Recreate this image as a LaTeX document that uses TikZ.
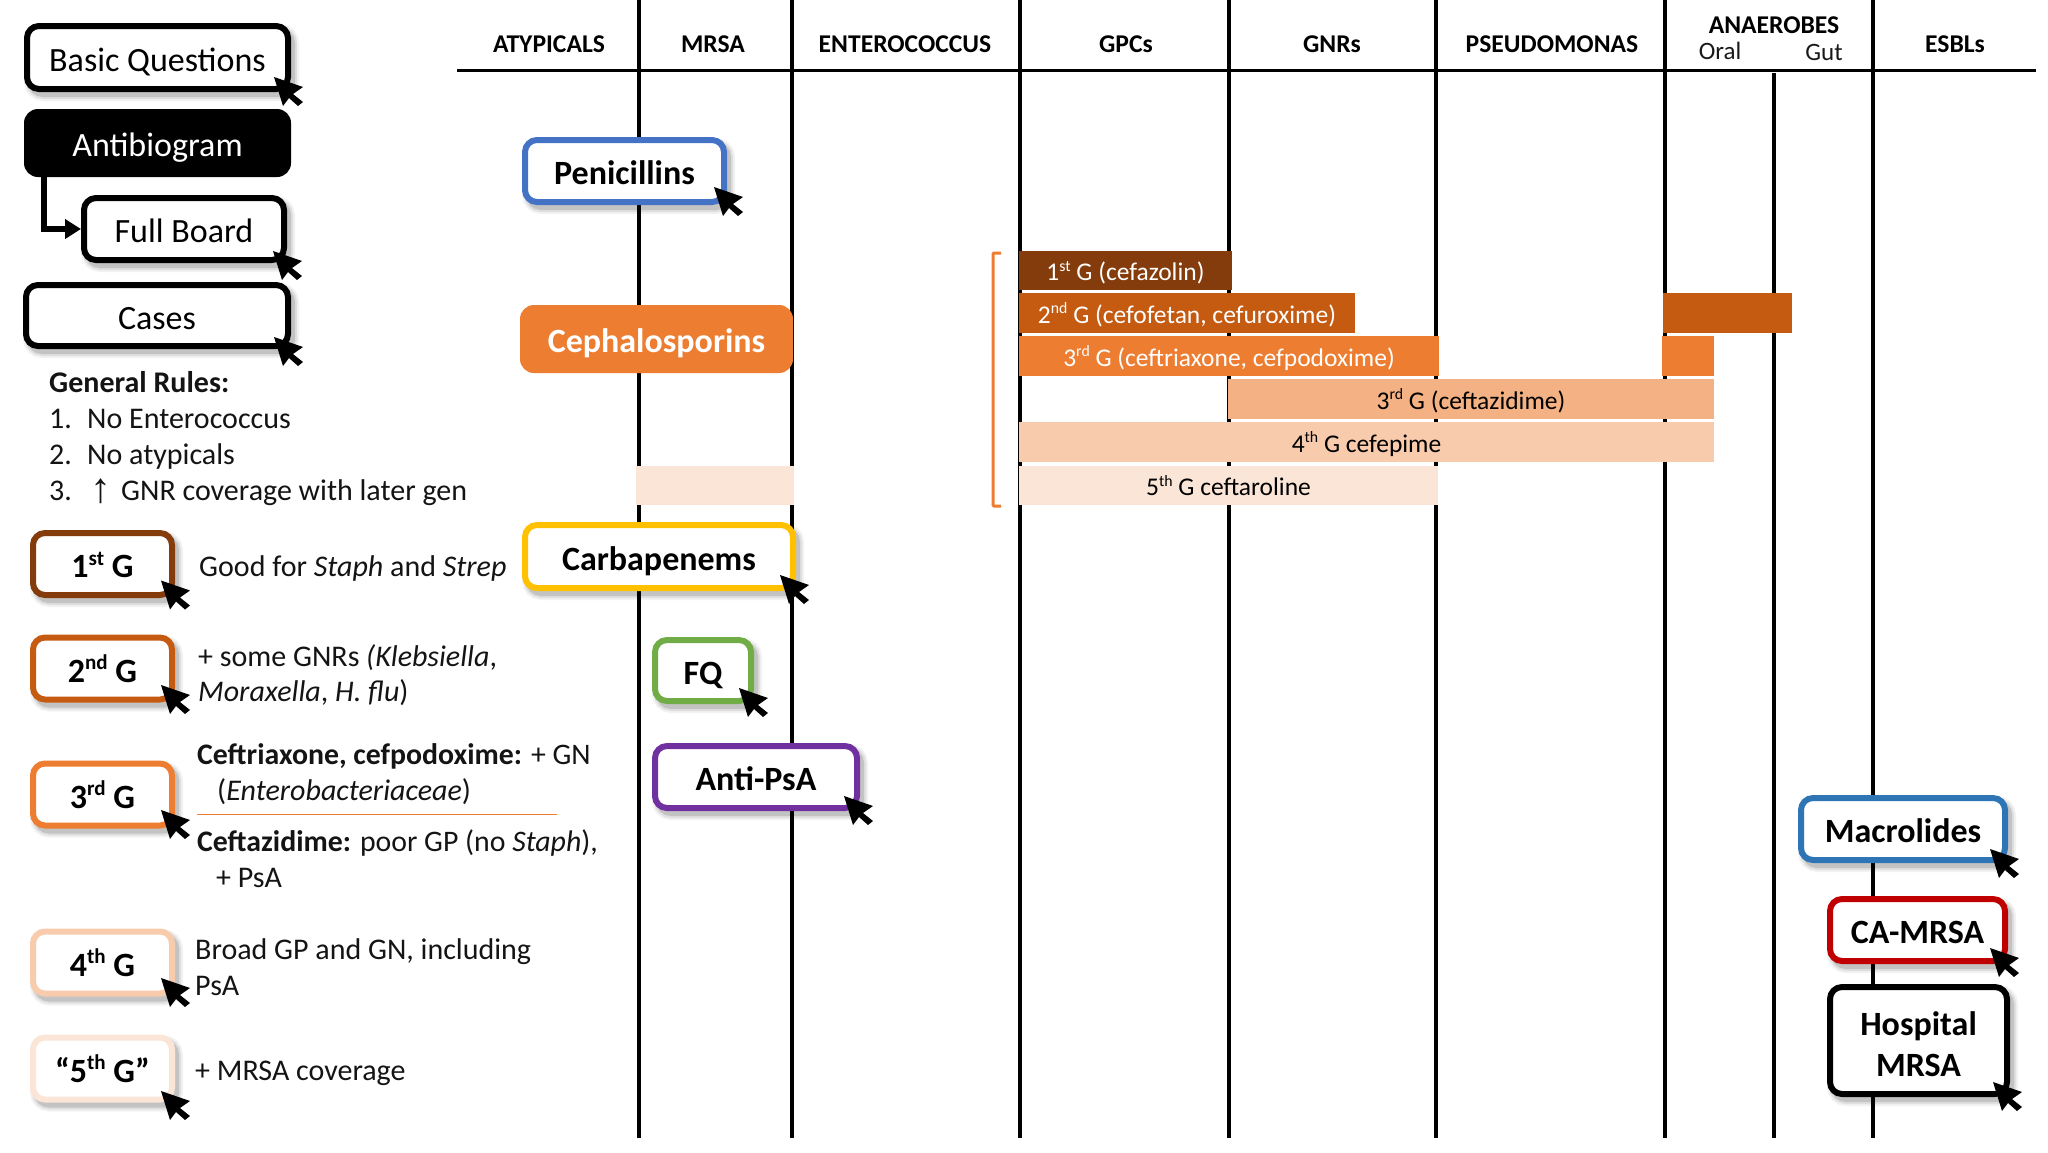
\documentclass[tikz,border=0pt]{standalone}
\usepackage{fontspec}
\setmainfont{Carlito}
\newfontfamily\symf{Liberation Sans}
\usetikzlibrary{arrows.meta}
\definecolor{gone}{HTML}{843C0C}
\definecolor{gtwo}{HTML}{C55A11}
\definecolor{gthree}{HTML}{ED7D31}
\definecolor{gthreeb}{HTML}{F4B183}
\definecolor{gfour}{HTML}{F8CBAD}
\definecolor{gfive}{HTML}{FBE5D6}
\definecolor{pen}{HTML}{4472C4}
\definecolor{carb}{HTML}{FFC000}
\definecolor{fq}{HTML}{70AD47}
\definecolor{psa}{HTML}{7030A0}
\definecolor{macro}{HTML}{2E75B6}
\definecolor{camrsa}{HTML}{C00000}
\newcommand\fsz[1]{\fontsize{#1}{#1}\selectfont}
\newcommand\sps[1]{\raisebox{.38em}{\scalebox{.62}{#1}}}
\tikzset{
  x=1pt,y=-1pt,
  fs/.style={font=\fsz{#1},text height=0.82*#1pt,text depth=0pt},
  fsb/.style={font=\fsz{#1}\bfseries,text height=0.82*#1pt,text depth=0pt},
  softshadow/.style={
    preaction={draw=black,opacity=.05,line width=14pt,transform canvas={shift={(4pt,-5pt)}}},
    preaction={draw=black,opacity=.08,line width=10pt,transform canvas={shift={(4pt,-5pt)}}},
    preaction={draw=black,opacity=.12,line width=6pt,transform canvas={shift={(4pt,-5pt)}}}},
  box/.style args={#1/#2/#3}{draw=#1,fill=white,line width=6pt,rounded corners=12pt,inner sep=0pt,
    minimum width=#2pt,minimum height=#3pt,softshadow},
  solid box/.style args={#1/#2/#3}{fill=#1,rounded corners=14pt,inner sep=0pt,minimum width=#2pt,minimum height=#3pt},
  bar/.style args={#1/#2/#3}{fill=#1,inner sep=0pt,minimum width=#2pt,minimum height=#3pt},
  body/.style={anchor=base west,inner sep=0pt,font=\fsz{30},text=black!92},
  hdr/.style={anchor=base,inner sep=0pt,font=\fsz{25.6}\bfseries,text=black},
  subhdr/.style={anchor=base,inner sep=0pt,font=\fsz{25},text=black!90},
  grid line/.style={line width=3.5pt,black},
  mouseptr/.pic={\fill[black] (0,0)--(29,10)--(19,17)--(29,25)--(24,29)--(15,21)--(9,29)--cycle;}
}
\begin{document}
\begin{tikzpicture}
\useasboundingbox (0,0) rectangle (2048,1152);
\fill[white] (0,0) rectangle (2048,1152);
% grid
\draw[grid line,line width=3pt] (457,70)--(2036,70);
\foreach \gx in {639,792,1020,1229,1436,1665,1873} \draw[grid line] (\gx,0)--(\gx,1138);
\draw[grid line] (1774,73)--(1774,1138);
% headers
\node[hdr] (hatyp) at (549,52) {ATYPICALS};
\node[hdr] (hmrsa) at (713,52) {MRSA};
\node[hdr] (hent) at (905,52) {ENTEROCOCCUS};
\node[hdr] (hgpc) at (1126,52) {GPCs};
\node[hdr] (hgnr) at (1332,52) {GNRs};
\node[hdr] (hpse) at (1552,52) {PSEUDOMONAS};
\node[hdr] (hana) at (1774,33) {ANAEROBES};
\node[subhdr] (horal) at (1720,59) {Oral};
\node[subhdr] (hgut) at (1824,60) {Gut};
\node[hdr] (hesbl) at (1955,52) {ESBLs};
% bars
\node[bar=gone/213/39,text=white,fs=25.5] (b1) at (1125.5,270.5) {1\sps{st} G (cefazolin)};
\node[bar=gtwo/336/40,text=white,fs=25.5] (b2) at (1187,313) {2\sps{nd} G (cefofetan, cefuroxime)};
\node[bar=gtwo/129/40] (b2r) at (1727.5,313) {};
\node[bar=gthree/420/40,text=white,fs=25.5] (b3) at (1229,356) {3\sps{rd} G (ceftriaxone, cefpodoxime)};
\node[bar=gthree/52/40] (b3r) at (1688,356) {};
\node[bar=gthreeb/486/40,fs=25.5] (b3b) at (1471,399) {3\sps{rd} G (ceftazidime)};
\node[bar=gfour/695/40,fs=25.5] (b4) at (1366.5,442) {4\sps{th} G cefepime};
\node[bar=gfive/419/39,fs=25.5] (b5) at (1228.5,485.5) {5\sps{th} G ceftaroline};
\node[bar=gfive/158/39] (b5m) at (715,485.5) {};
\draw[gthree,line width=3pt,rounded corners=1pt] (1001,253)--(993,253)--(993,506)--(1001,506);
% left menu
\node[box=black/261/63,fs=34] (basic) at (157.5,57.5) {Basic Questions};
\node[solid box=black/267/68,text=white,fs=34] (anti) at (157.5,143) {Antibiogram};
\node[box=black/200/62,fs=34] (full) at (184,229) {Full Board};
\node[box=black/262/61,fs=34] (cases) at (157,315.5) {Cases};
\draw[black,line width=6.5pt,-{Triangle[length=16pt,width=19pt]}] ([xshift=20pt]anti.south west) |- (full.west);
\pic at (274,77) {mouseptr};
\pic at (273,251) {mouseptr};
\pic at (274,337) {mouseptr};
% rules
\node[body,font=\fsz{30}\bfseries] (rt) at (49,392) {General Rules:};
\node[body] (r1n) at (49,428) {1.};
\node[body] (r1) at (87,428) {No Enterococcus};
\node[body] (r2n) at (49,464) {2.};
\node[body] (r2) at (87,464) {No atypicals};
\node[body] (r3n) at (49,500) {3.};
\node[body,font=\fsz{42}] (r3a) at (90,502) {{\symf ↑}};
\node[body] (r3) at (121,500) {GNR coverage with later gen};
% generation boxes
\node[box=gone/139/62,fsb=34] (g1) at (102.5,564) {1\sps{st} G};
\node[box=gtwo/139/62,fsb=34] (g2) at (102.5,668.5) {2\sps{nd} G};
\node[box=gthree/139/62,fsb=34] (g3) at (102.5,794.5) {3\sps{rd} G};
\node[box=gfour/139/62,fsb=34] (g4) at (102.5,962.5) {4\sps{th} G};
\node[box=gfive/139/62,fsb=34] (g5) at (102.5,1068.5) {“5\sps{th} G”};
\foreach \gy in {580.5,685,810,978,1091} \pic at (161,\gy) {mouseptr};
% descriptions
\node[body] (d1) at (199,576) {Good for \textit{Staph} and \textit{Strep}};
\node[body] (d2a) at (198,666) {+ some GNRs \textit{(Klebsiella},};
\node[body] (d2b) at (198,701) {\textit{Moraxella}, \textit{H. flu})};
\node[body,font=\fsz{29.8}] (d3a) at (197,764) {\textbf{Ceftriaxone, cefpodoxime:} + GN};
\node[body] (d3b) at (217,800) {(\textit{Enterobacteriaceae})};
\draw[gthree,line width=1.5pt] (197,814.5)--(557,814.5);
\node[body,font=\fsz{29.8}] (d3c) at (197,851) {\textbf{Ceftazidime:} poor GP (no \textit{Staph}),};
\node[body] (d3d) at (216,887) {+ PsA};
\node[body] (d4a) at (195,959) {Broad GP and GN, including};
\node[body] (d4b) at (195,995) {PsA};
\node[body] (d5) at (195,1080) {+ MRSA coverage};
% drug classes
\node[box=pen/199/62,fsb=34] (peni) at (624.5,171) {Penicillins};
\pic at (714,187) {mouseptr};
\node[solid box=gthree/273/68,text=white,fsb=34] (ceph) at (656.5,339) {Cephalosporins};
\node[box=carb/268/63,fsb=34] (carbn) at (659,556.5) {Carbapenems};
\pic at (780,575) {mouseptr};
\node[box=fq/96/61,fsb=34] (fqn) at (703,670.5) {FQ};
\pic at (739,688) {mouseptr};
\node[box=psa/202/62,fsb=34] (psan) at (756,777) {Anti-PsA};
\pic at (844,796) {mouseptr};
\node[box=macro/204/62,fsb=34] (macn) at (1903,829) {Macrolides};
\pic at (1990,849) {mouseptr};
\node[box=camrsa/175/62,fsb=34] (can) at (1917.5,930) {CA-MRSA};
\pic at (1990,948) {mouseptr};
\node[box=black/177/107,align=center,font=\fontsize{34}{41}\selectfont\bfseries] (hosp) at (1918.5,1040.5) {\rule{0pt}{31pt}Hospital\\MRSA};
\pic at (1993,1082) {mouseptr};
\end{tikzpicture}
\end{document}
